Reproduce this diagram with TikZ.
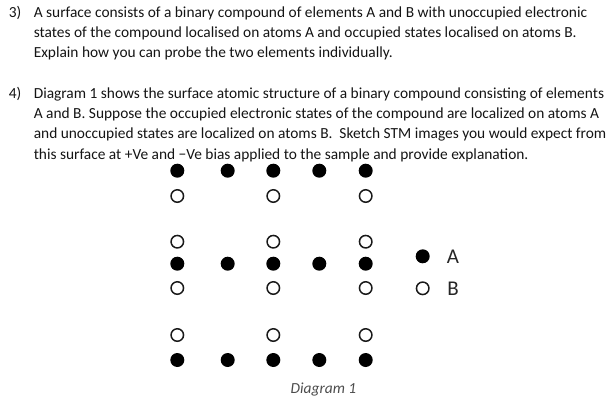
\documentclass[tikz,border=0pt]{standalone}
\usepackage{fontspec}
\setmainfont{Carlito}
\tikzset{
  txt/.style={anchor=base west,inner sep=0pt,font=\fontsize{15.4}{17}\selectfont,text=black!92},
  atomA/.style={circle,fill=black,draw=none,minimum size=14pt,inner sep=0pt},
  atomB/.style={circle,fill=white,draw=black!90,line width=1.5pt,minimum size=12.5pt,inner sep=0pt},
  leg/.style={inner sep=0pt,font=\fontsize{21}{23}\selectfont,text=black!85},
  captxt/.style={inner sep=0pt,font=\itshape\fontsize{15.4}{17}\selectfont,text=black!70}
}
\begin{document}
\begin{tikzpicture}[x=1pt,y=-1pt]
\useasboundingbox (0,0) rectangle (612,402);
\node[txt] (n3) at (8.6,17) {3)};
\node[txt] (l1) at (33.6,17) {A surface consists of a binary compound of elements A and B with unoccupied electronic};
\node[txt] (l2) at (33.6,37.5) {states of the compound localised on atoms A and occupied states localised on atoms B.};
\node[txt] (l3) at (33.6,57.5) {Explain how you can probe the two elements individually.};
\node[txt] (n4) at (8.6,98) {4)};
\node[txt] (l4) at (33.6,98) {Diagram 1 shows the surface atomic structure of a binary compound consisting of elements};
\node[txt] (l5) at (33.6,118) {A and B. Suppose the occupied electronic states of the compound are localized on atoms A};
\node[txt] (l6) at (33.6,138.5) {and unoccupied states are localized on atoms B.\ \ Sketch STM images you would expect from};
\node[txt] (l7) at (33.6,159) {this surface at +Ve and −Ve bias applied to the sample and provide explanation.};
\foreach \n/\x in {a/177.3,b/227.7,c/273.3,d/319.3,e/365.7}{
  \node[atomA] (r1\n) at (\x,170.7) {};
  \node[atomA] (r4\n) at (\x,263.7) {};
  \node[atomA] (r7\n) at (\x,360) {};
}
\foreach \n/\x in {a/177.3,c/273.3,e/365.7}{
  \node[atomB] (r2\n) at (\x,196) {};
  \node[atomB] (r3\n) at (\x,241.7) {};
  \node[atomB] (r5\n) at (\x,288) {};
  \node[atomB] (r6\n) at (\x,335) {};
}
\node[atomA] (legA) at (422.7,256.3) {};
\node[atomB] (legB) at (422.7,288.3) {};
\node[leg] (labA) at (453,256.5) {A};
\node[leg] (labB) at (453,289) {B};
\node[captxt] (capt) at (323.5,390) {Diagram 1};
\end{tikzpicture}
\end{document}
